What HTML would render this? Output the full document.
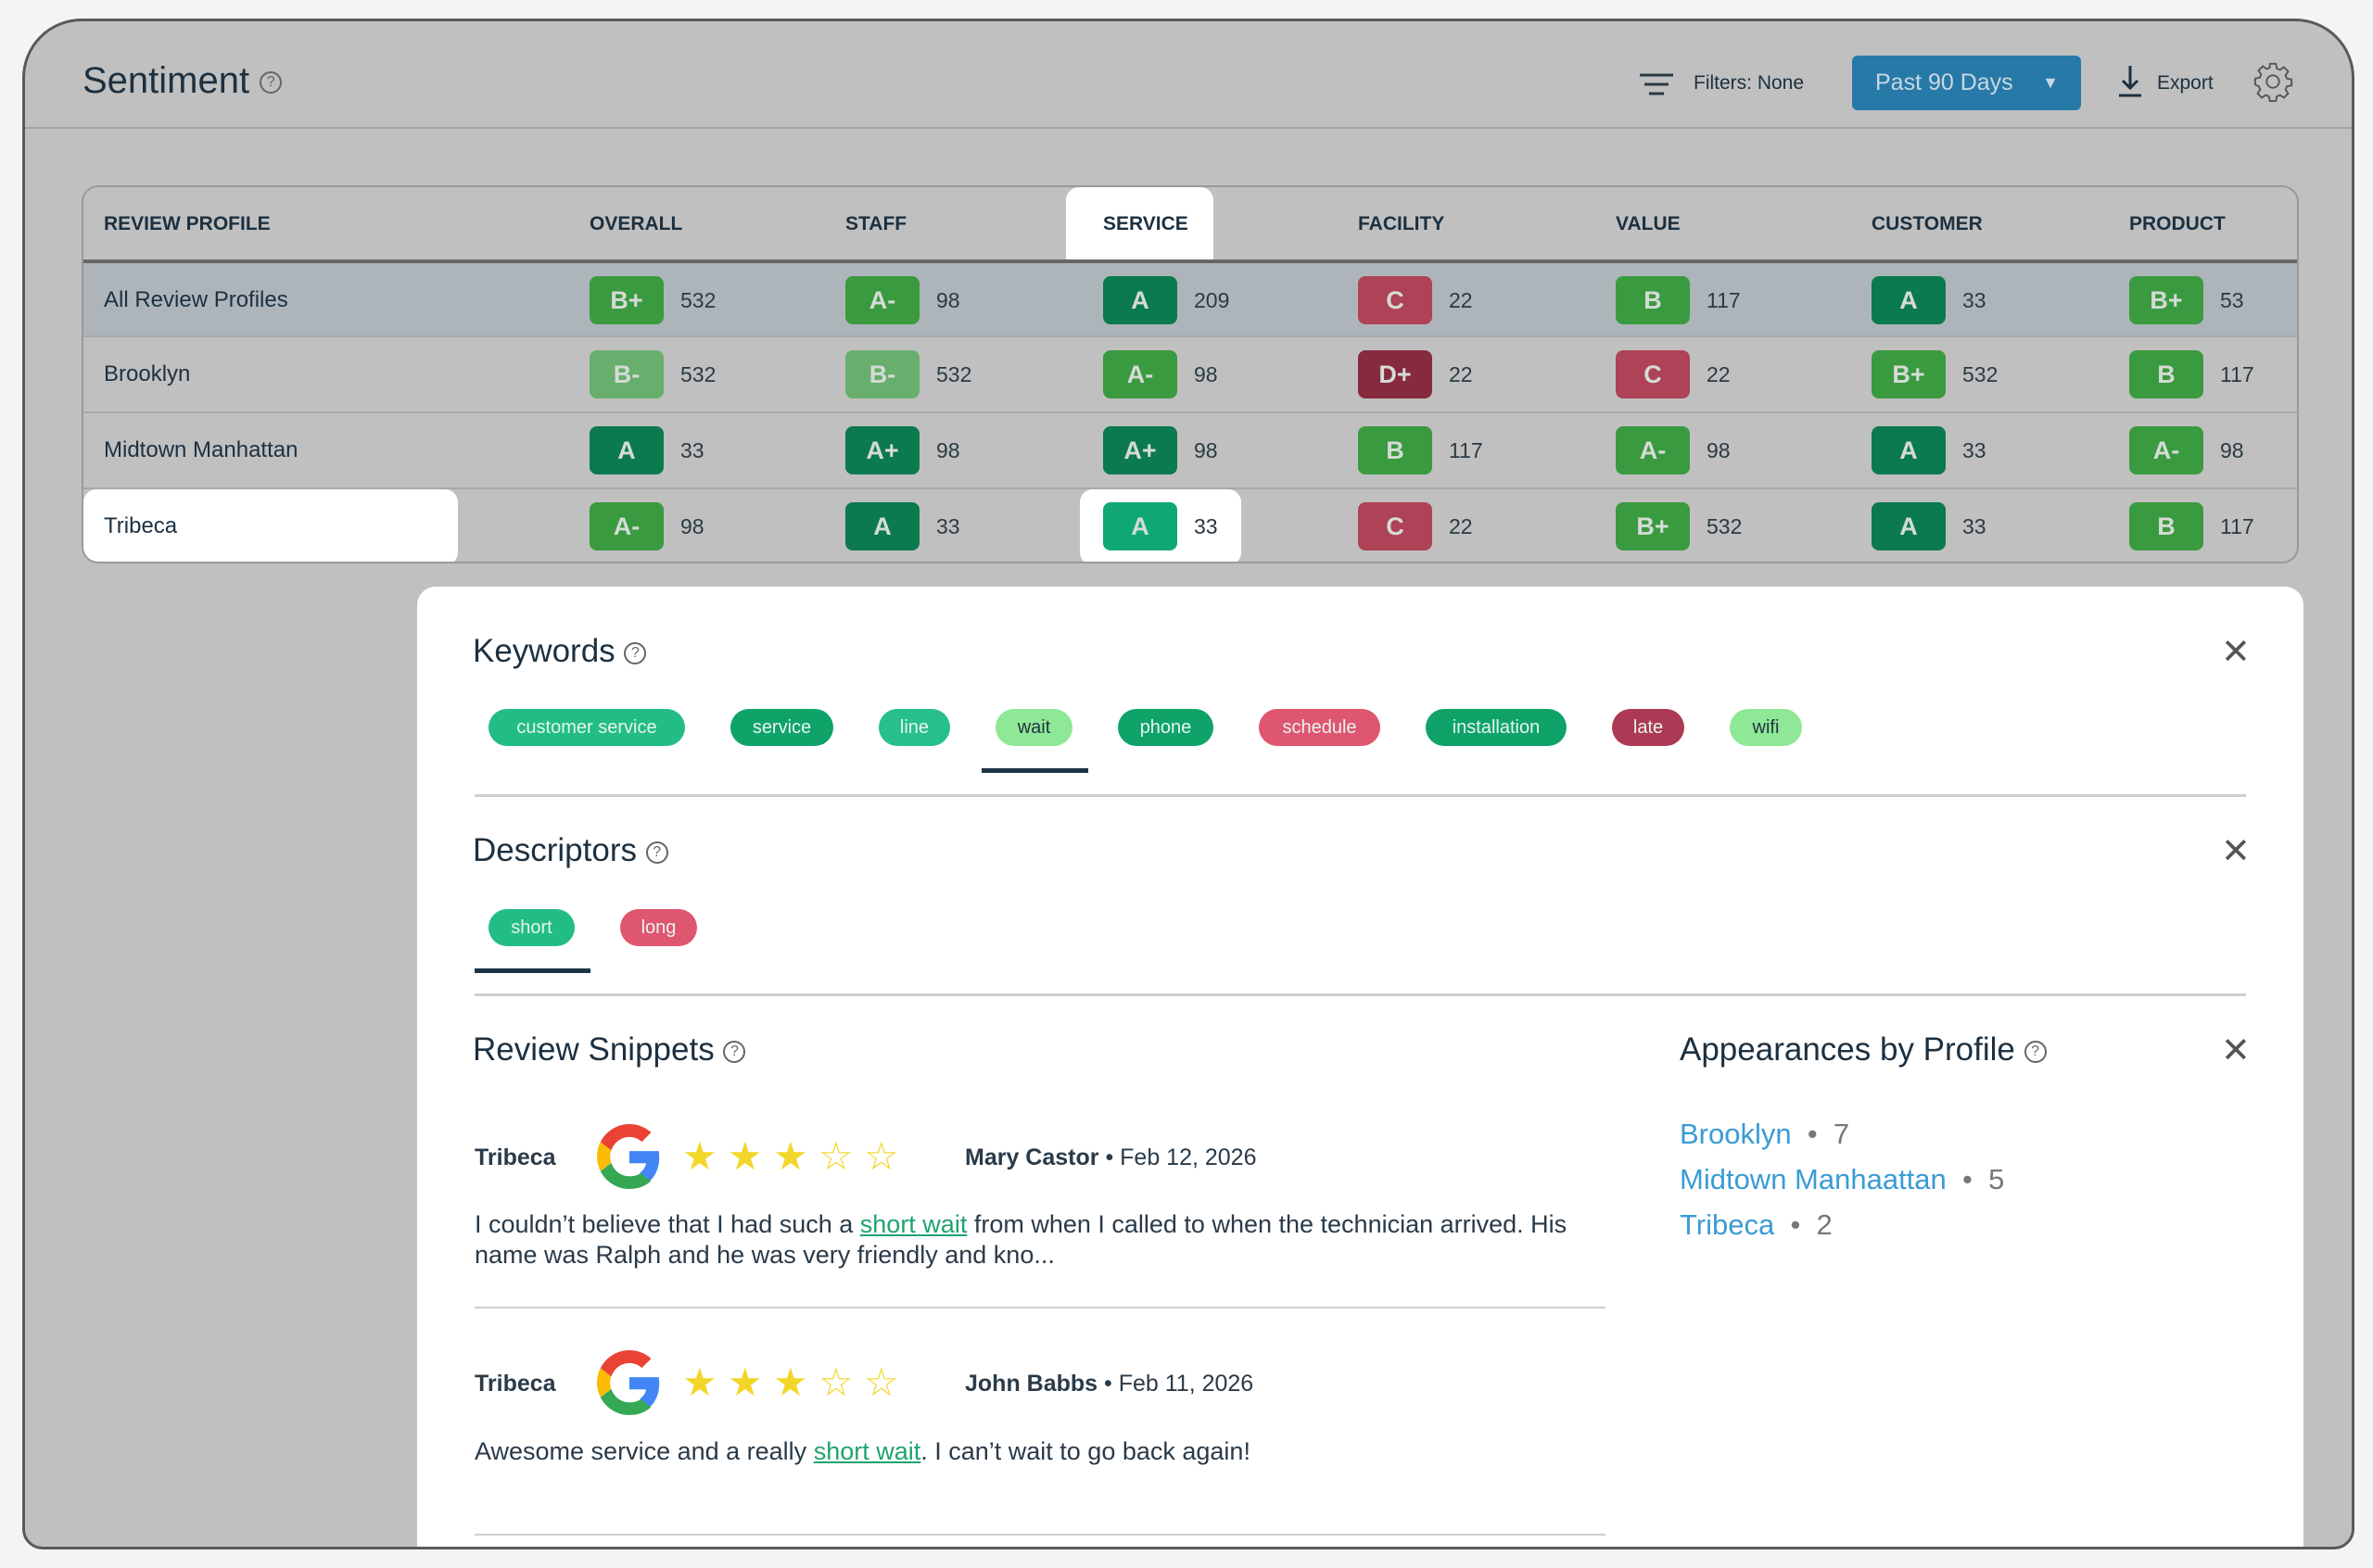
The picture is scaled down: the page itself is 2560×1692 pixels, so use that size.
<!DOCTYPE html>
<html><head><meta charset="utf-8">
<style>
*{box-sizing:border-box;margin:0;padding:0}
body{width:2560px;height:1692px;background:#f3f4f6;font-family:"Liberation Sans",sans-serif;position:relative;overflow:hidden;color:#1c3040}
.frame{position:absolute;left:24px;top:20px;width:2516px;height:1652px;border:3px solid #5a5a5a;border-radius:64px 64px 22px 22px;background:#c0c0c0;overflow:hidden}
.abs{position:absolute}
.hdrline{position:absolute;left:0;right:0;top:114px;height:2px;background:#a4a4a4}
.title{left:62px;top:42px;font-size:40px;color:#1c3040}
.help{display:inline-block;border:2px solid #666;border-radius:50%;text-align:center;color:#666;font-size:16px;width:24px;height:24px;line-height:20px;vertical-align:middle}
.table{left:61px;top:177px;width:2392px;height:408px;border:2px solid #9a9a9a;border-radius:18px;overflow:hidden}
.th{position:absolute;top:28px;font-size:21px;font-weight:bold;color:#1c3040}
.row{position:absolute;left:0;right:0;height:82px;border-top:2px solid #a8a8a8}
.b{position:absolute;width:80px;height:52px;border-radius:8px;color:#d5dbd6;font-size:27px;font-weight:bold;text-align:center;line-height:52px;top:14px}
.n{position:absolute;top:27px;font-size:23px;color:#2a3a44}
.rl{position:absolute;left:22px;top:26px;font-size:24px;color:#1c3040}
.g1{background:#3a9a40}.g2{background:#0b7a4e}.g3{background:#68ae6c}.r1{background:#ae4256}.r2{background:#862b3f}.g4{background:#0fa873}
.panel{left:423px;top:610px;width:2035px;height:1100px;background:#fff;border-radius:20px}
.h2{position:absolute;font-size:35px;color:#1c3040}
.x{position:absolute;font-size:38px;color:#555;font-weight:300}
.chip{position:absolute;height:40px;border-radius:20px;color:#e6f5ee;font-size:20px;line-height:40px;text-align:center}
.div{position:absolute;height:3px;background:#cfcfcf}
.ul{position:absolute;height:5px;background:#1c3544}
.st{position:absolute;font-size:42px;color:#f3d62a;line-height:42px}
.txt{position:absolute;font-size:27px;color:#2a3a48;line-height:33px;white-space:nowrap}
a{color:#1fa36e;text-decoration:underline}
.ap{position:absolute;font-size:31px;color:#3a9bd5;white-space:nowrap}
.ap span{color:#777}
</style></head><body>
<div class="frame">
 <div class="abs title">Sentiment <span class="help">?</span></div>
 <svg class="abs" style="left:1742px;top:55px" width="36" height="26"><g stroke="#2a3a44" stroke-width="3"><line x1="0" y1="3" x2="36" y2="3"/><line x1="5" y1="13" x2="31" y2="13"/><line x1="10" y1="23" x2="26" y2="23"/></g></svg>
 <div class="abs" style="left:1800px;top:55px;font-size:21px;color:#1c3040">Filters: None</div>
 <div class="abs" style="left:1971px;top:37px;width:247px;height:59px;background:#2779a8;border-radius:6px;color:#c8d7e2;font-size:25px;line-height:59px;padding-left:25px">Past 90 Days <span style="position:absolute;right:24px;top:0;font-size:18px">▼</span></div>
 <svg class="abs" style="left:2256px;top:48px" width="30" height="34"><g stroke="#1c3040" stroke-width="3" fill="none"><line x1="15" y1="0" x2="15" y2="24"/><polyline points="7,16 15,24 23,16"/><line x1="3" y1="32" x2="27" y2="32"/></g></svg>
 <div class="abs" style="left:2300px;top:55px;font-size:21px;color:#1c3040">Export</div>
 <svg class="abs" style="left:2402px;top:42px" width="46" height="46" viewBox="0 0 24 24"><path fill="none" stroke="#555" stroke-width="1" d="M10.3 2h3.4l.5 2.6 1.8.8 2.2-1.5 2.4 2.4-1.5 2.2.8 1.8 2.6.5v3.4l-2.6.5-.8 1.8 1.5 2.2-2.4 2.4-2.2-1.5-1.8.8-.5 2.6h-3.4l-.5-2.6-1.8-.8-2.2 1.5-2.4-2.4 1.5-2.2-.8-1.8L2 13.7v-3.4l2.6-.5.8-1.8-1.5-2.2 2.4-2.4 2.2 1.5 1.8-.8z"/><circle cx="12" cy="12" r="3.5" fill="none" stroke="#555" stroke-width="1"/></svg>
 <div class="hdrline"></div>

 <div class="abs table">
  <div class="abs" style="left:1060px;top:0;width:159px;height:80px;background:#fff;border-top-left-radius:14px;border-top-right-radius:14px"></div>
  <div class="th" style="left:22px">REVIEW PROFILE</div>
  <div class="th" style="left:546px">OVERALL</div>
  <div class="th" style="left:822px">STAFF</div>
  <div class="th" style="left:1100px">SERVICE</div>
  <div class="th" style="left:1375px">FACILITY</div>
  <div class="th" style="left:1653px">VALUE</div>
  <div class="th" style="left:1929px">CUSTOMER</div>
  <div class="th" style="left:2207px">PRODUCT</div>

  <div class="row" style="top:78px;background:#adb5bb;border-top:4px solid #666">
   <div class="rl">All Review Profiles</div>
   <div class="b g1" style="left:546px">B+</div><div class="n" style="left:644px">532</div>
   <div class="b g1" style="left:822px">A-</div><div class="n" style="left:920px">98</div>
   <div class="b g2" style="left:1100px">A</div><div class="n" style="left:1198px">209</div>
   <div class="b r1" style="left:1375px">C</div><div class="n" style="left:1473px">22</div>
   <div class="b g1" style="left:1653px">B</div><div class="n" style="left:1751px">117</div>
   <div class="b g2" style="left:1929px">A</div><div class="n" style="left:2027px">33</div>
   <div class="b g1" style="left:2207px">B+</div><div class="n" style="left:2305px">53</div>
  </div>
  <div class="row" style="top:160px">
   <div class="rl">Brooklyn</div>
   <div class="b g3" style="left:546px">B-</div><div class="n" style="left:644px">532</div>
   <div class="b g3" style="left:822px">B-</div><div class="n" style="left:920px">532</div>
   <div class="b g1" style="left:1100px">A-</div><div class="n" style="left:1198px">98</div>
   <div class="b r2" style="left:1375px">D+</div><div class="n" style="left:1473px">22</div>
   <div class="b r1" style="left:1653px">C</div><div class="n" style="left:1751px">22</div>
   <div class="b g1" style="left:1929px">B+</div><div class="n" style="left:2027px">532</div>
   <div class="b g1" style="left:2207px">B</div><div class="n" style="left:2305px">117</div>
  </div>
  <div class="row" style="top:242px">
   <div class="rl">Midtown Manhattan</div>
   <div class="b g2" style="left:546px">A</div><div class="n" style="left:644px">33</div>
   <div class="b g2" style="left:822px">A+</div><div class="n" style="left:920px">98</div>
   <div class="b g2" style="left:1100px">A+</div><div class="n" style="left:1198px">98</div>
   <div class="b g1" style="left:1375px">B</div><div class="n" style="left:1473px">117</div>
   <div class="b g1" style="left:1653px">A-</div><div class="n" style="left:1751px">98</div>
   <div class="b g2" style="left:1929px">A</div><div class="n" style="left:2027px">33</div>
   <div class="b g1" style="left:2207px">A-</div><div class="n" style="left:2305px">98</div>
  </div>
  <div class="row" style="top:324px">
   <div class="abs" style="left:0;top:0;width:404px;height:82px;background:#fff;border-radius:14px"></div>
   <div class="abs" style="left:1075px;top:0;width:174px;height:82px;background:#fff;border-radius:14px"></div>
   <div class="rl">Tribeca</div>
   <div class="b g1" style="left:546px">A-</div><div class="n" style="left:644px">98</div>
   <div class="b g2" style="left:822px">A</div><div class="n" style="left:920px">33</div>
   <div class="b g4" style="left:1100px">A</div><div class="n" style="left:1198px">33</div>
   <div class="b r1" style="left:1375px">C</div><div class="n" style="left:1473px">22</div>
   <div class="b g1" style="left:1653px">B+</div><div class="n" style="left:1751px">532</div>
   <div class="b g2" style="left:1929px">A</div><div class="n" style="left:2027px">33</div>
   <div class="b g1" style="left:2207px">B</div><div class="n" style="left:2305px">117</div>
  </div>
 </div>

 <div class="abs panel">
  <div class="h2" style="left:60px;top:50px">Keywords <span class="help">?</span></div>
  <div class="x" style="left:1946px;top:48px">✕</div>
  <div class="chip" style="left:77px;top:132px;width:212px;background:#22bd84">customer service</div>
  <div class="chip" style="left:338px;top:132px;width:111px;background:#0fa36a">service</div>
  <div class="chip" style="left:498px;top:132px;width:77px;background:#27c08a">line</div>
  <div class="chip" style="left:624px;top:132px;width:83px;background:#8ee895;color:#234">wait</div>
  <div class="chip" style="left:756px;top:132px;width:103px;background:#0fa36a">phone</div>
  <div class="chip" style="left:908px;top:132px;width:131px;background:#de5670">schedule</div>
  <div class="chip" style="left:1088px;top:132px;width:152px;background:#0fa36a">installation</div>
  <div class="chip" style="left:1289px;top:132px;width:78px;background:#ad3a55">late</div>
  <div class="chip" style="left:1416px;top:132px;width:78px;background:#8ee895;color:#234">wifi</div>
  <div class="ul" style="left:609px;top:196px;width:115px"></div>
  <div class="div" style="left:62px;top:224px;width:1911px"></div>

  <div class="h2" style="left:60px;top:265px">Descriptors <span class="help">?</span></div>
  <div class="x" style="left:1946px;top:263px">✕</div>
  <div class="chip" style="left:77px;top:348px;width:93px;background:#22bd84">short</div>
  <div class="chip" style="left:219px;top:348px;width:83px;background:#de5670">long</div>
  <div class="ul" style="left:62px;top:412px;width:125px"></div>
  <div class="div" style="left:62px;top:439px;width:1911px"></div>

  <div class="h2" style="left:60px;top:480px">Review Snippets <span class="help">?</span></div>
  <div class="h2" style="left:1362px;top:480px">Appearances by Profile <span class="help">?</span></div>
  <div class="x" style="left:1946px;top:478px">✕</div>
  <div class="ap" style="left:1362px;top:573px">Brooklyn <span>&nbsp;•&nbsp; 7</span></div>
  <div class="ap" style="left:1362px;top:622px">Midtown Manhaattan <span>&nbsp;•&nbsp; 5</span></div>
  <div class="ap" style="left:1362px;top:671px">Tribeca <span>&nbsp;•&nbsp; 2</span></div>

  <!-- snippet 1 -->
  <div class="txt" style="left:62px;top:600px;font-weight:bold;font-size:25px">Tribeca</div>
  <svg class="abs" style="left:194px;top:579px" width="70" height="72" viewBox="0 0 48 48"><path fill="#EA4335" d="M24 9.5c3.5 0 6.7 1.2 9.2 3.6l6.9-6.9C35.9 2.4 30.5 0 24 0 14.6 0 6.6 5.4 2.6 13.3l8 6.2C12.5 13.7 17.8 9.5 24 9.5z"/><path fill="#4285F4" d="M46.1 24.6c0-1.6-.1-3.1-.4-4.6H24v9h12.4c-.5 2.9-2.2 5.4-4.7 7l7.6 5.9c4.4-4.1 6.8-10.1 6.8-17.3z"/><path fill="#FBBC05" d="M10.5 28.6c-.5-1.5-.8-3-.8-4.6s.3-3.1.8-4.6l-8-6.2C1 16.4 0 20.1 0 24s1 7.6 2.6 10.8l7.9-6.2z"/><path fill="#34A853" d="M24 48c6.5 0 11.9-2.1 15.9-5.8l-7.6-5.9c-2.1 1.4-4.9 2.3-8.3 2.3-6.2 0-11.5-4.2-13.4-9.9l-8 6.2C6.6 42.6 14.6 48 24 48z"/></svg>
  <div class="st" style="left:286px;top:594px">★</div><div class="st" style="left:335px;top:594px">★</div><div class="st" style="left:384px;top:594px">★</div><div class="st" style="left:433px;top:594px">☆</div><div class="st" style="left:482px;top:594px">☆</div>
  <div class="txt" style="left:591px;top:600px;font-size:25px"><b>Mary Castor</b> • Feb 12, 2026</div>
  <div class="txt" style="left:62px;top:672px">I couldn’t believe that I had such a <a>short wait</a> from when I called to when the technician arrived. His<br>name was Ralph and he was very friendly and kno...</div>
  <div class="div" style="left:62px;top:777px;width:1220px;height:2px"></div>

  <!-- snippet 2 -->
  <div class="txt" style="left:62px;top:844px;font-weight:bold;font-size:25px">Tribeca</div>
  <svg class="abs" style="left:194px;top:823px" width="70" height="72" viewBox="0 0 48 48"><path fill="#EA4335" d="M24 9.5c3.5 0 6.7 1.2 9.2 3.6l6.9-6.9C35.9 2.4 30.5 0 24 0 14.6 0 6.6 5.4 2.6 13.3l8 6.2C12.5 13.7 17.8 9.5 24 9.5z"/><path fill="#4285F4" d="M46.1 24.6c0-1.6-.1-3.1-.4-4.6H24v9h12.4c-.5 2.9-2.2 5.4-4.7 7l7.6 5.9c4.4-4.1 6.8-10.1 6.8-17.3z"/><path fill="#FBBC05" d="M10.5 28.6c-.5-1.5-.8-3-.8-4.6s.3-3.1.8-4.6l-8-6.2C1 16.4 0 20.1 0 24s1 7.6 2.6 10.8l7.9-6.2z"/><path fill="#34A853" d="M24 48c6.5 0 11.9-2.1 15.9-5.8l-7.6-5.9c-2.1 1.4-4.9 2.3-8.3 2.3-6.2 0-11.5-4.2-13.4-9.9l-8 6.2C6.6 42.6 14.6 48 24 48z"/></svg>
  <div class="st" style="left:286px;top:838px">★</div><div class="st" style="left:335px;top:838px">★</div><div class="st" style="left:384px;top:838px">★</div><div class="st" style="left:433px;top:838px">☆</div><div class="st" style="left:482px;top:838px">☆</div>
  <div class="txt" style="left:591px;top:844px;font-size:25px"><b>John Babbs</b> • Feb 11, 2026</div>
  <div class="txt" style="left:62px;top:917px">Awesome service and a really <a>short wait</a>. I can’t wait to go back again!</div>
  <div class="div" style="left:62px;top:1022px;width:1220px;height:2px"></div>
 </div>
</div>
</body></html>
